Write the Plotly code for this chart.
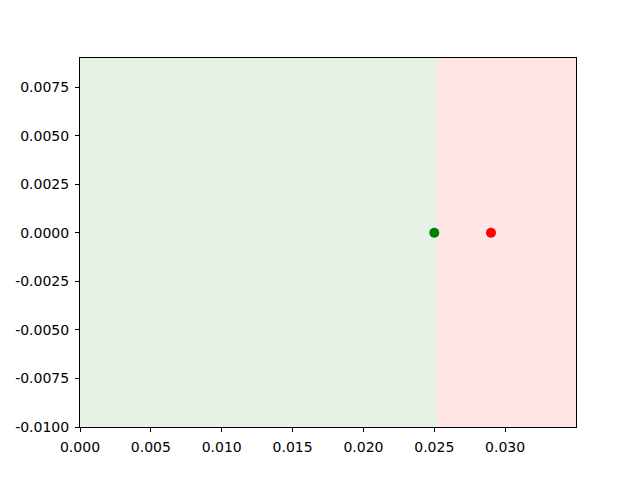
import plotly.graph_objects as go

# Data
points_x = [0.025, 0.029]
points_y = [0.0, 0.0]
point_colors = ["green", "red"]
region_x0 = [0.0, 0.0252]
region_x1 = [0.0252, 0.035]
region_colors = ["rgba(0,128,0,0.1)", "rgba(255,0,0,0.1)"]
x_ticks = [0.000, 0.005, 0.010, 0.015, 0.020, 0.025, 0.030]
y_ticks = [-0.0100, -0.0075, -0.0050, -0.0025, 0.0000, 0.0025, 0.0050, 0.0075]
x_range = [0.0, 0.035]
y_range = [-0.01, 0.009]

fig = go.Figure()
fig.add_trace(go.Scatter(
    x=points_x, y=points_y, mode="markers",
    marker=dict(color=point_colors, size=10, line=dict(width=0)),
    showlegend=False, hoverinfo="skip",
))

for x0, x1, c in zip(region_x0, region_x1, region_colors):
    fig.add_shape(type="rect", xref="x", yref="y", x0=x0, x1=x1,
                  y0=y_range[0], y1=y_range[1], fillcolor=c,
                  line=dict(width=0), layer="below")

axis_common = dict(
    showgrid=False, zeroline=False, showline=True, linecolor="black",
    linewidth=1, mirror=True, ticks="outside", ticklen=4, tickwidth=1,
    tickcolor="black", tickfont=dict(family="DejaVu Sans", size=14, color="black"),
    ticklabelstandoff=3, automargin=False,
)
fig.update_xaxes(range=x_range, tickvals=x_ticks,
                 ticktext=[f"{v:.3f}" for v in x_ticks], **axis_common)
fig.update_yaxes(range=y_range, tickvals=y_ticks,
                 ticktext=[f"{v:.4f}" for v in y_ticks], **axis_common)

fig.update_layout(
    width=640, height=480,
    margin=dict(l=72, r=72, t=50, b=61),
    plot_bgcolor="white", paper_bgcolor="white",
    font=dict(family="DejaVu Sans", size=14, color="black"),
)
fig.write_html("out.html")
